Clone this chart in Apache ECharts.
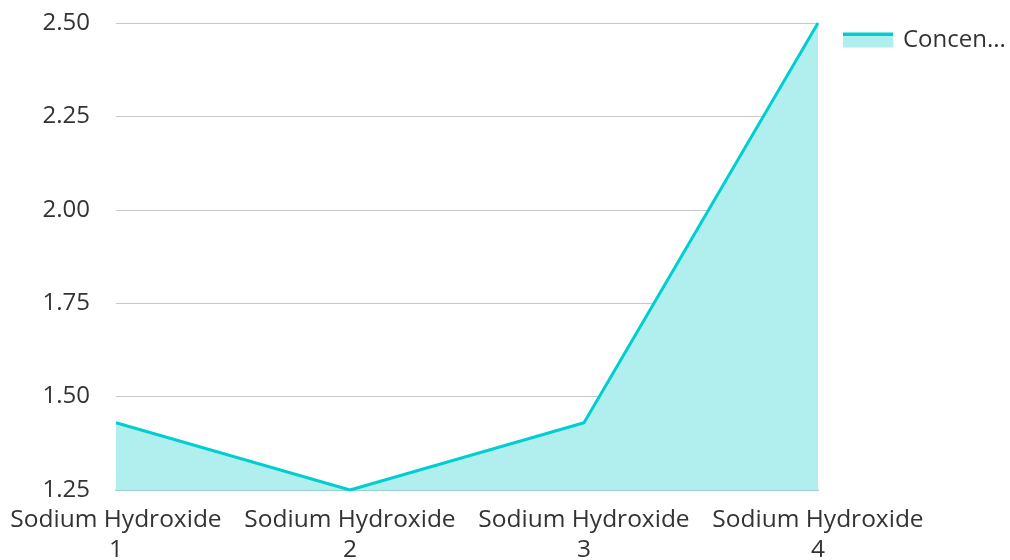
<!DOCTYPE html>
<html>
<head>
<meta charset="utf-8">
<script src="https://cdn.jsdelivr.net/npm/echarts@6/dist/echarts.min.js"></script>
<style>
  html, body { margin: 0; padding: 0; background: #fff; }
  #chart { width: 1010px; height: 560px; }
</style>
</head>
<body>
<div id="chart"></div>
<script>
const categories = ['Sodium Hydroxide\n1', 'Sodium Hydroxide\n2', 'Sodium Hydroxide\n3', 'Sodium Hydroxide\n4']
const seriesName = 'Concentration'
const concentration = [1.43, 1.25, 1.43, 2.50]
const yMin = 1.25
const yMax = 2.5
const yStep = 0.25

const lineColor = '#00CED1'
const areaColor = '#B1EFEF'
const fontFamily = '"Open Sans", "Noto Sans", sans-serif'

const chart = echarts.init(document.getElementById('chart'))

chart.setOption({
  animation: false,
  textStyle: { fontFamily },
  grid: { left: 116, right: 192, top: 23, bottom: 70, outerBoundsMode: 'none', containLabel: false },
  legend: {
    left: 838,
    top: 23,
    icon: 'rect',
    itemWidth: 50,
    itemHeight: 15,
    itemStyle: {
      color: {
        type: 'linear', x: 0, y: 0, x2: 0, y2: 1,
        colorStops: [
          { offset: 0, color: lineColor },
          { offset: 0.22, color: lineColor },
          { offset: 0.22, color: areaColor },
          { offset: 1, color: areaColor }
        ]
      }
    },
    textStyle: {
      fontSize: 24,
      color: '#333',
      width: 104,
      overflow: 'truncate',
      ellipsis: '...',
      padding: [0, 0, 0, 5]
    }
  },
  xAxis: {
    type: 'category',
    data: categories,
    boundaryGap: false,
    axisTick: { show: false },
    axisLine: { lineStyle: { color: '#99d3d3', width: 2 } },
    axisLabel: { interval: 0, fontSize: 24.5, color: '#333', lineHeight: 30, margin: 15 }
  },
  yAxis: {
    type: 'value',
    min: yMin,
    max: yMax,
    interval: yStep,
    axisLine: { show: false },
    axisTick: { show: false },
    axisLabel: {
      fontSize: 24,
      color: '#333',
      margin: 26,
      formatter: v => v.toFixed(2)
    },
    splitLine: { lineStyle: { color: '#c8c8c8', width: 1 } }
  },
  series: [{
    name: seriesName,
    type: 'line',
    data: concentration,
    symbol: 'none',
    lineStyle: { color: lineColor, width: 3 },
    itemStyle: { color: lineColor },
    areaStyle: { color: areaColor, opacity: 1, origin: 'start' }
  }]
})
</script>
</body>
</html>
